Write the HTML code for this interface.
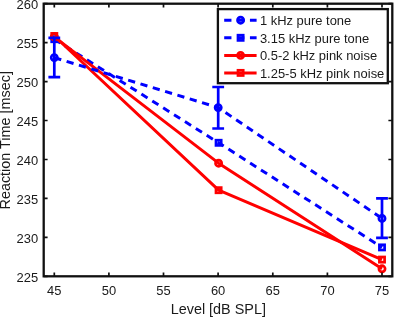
<!DOCTYPE html>
<html><head><meta charset="utf-8"><title>Reaction Time vs Level</title>
<style>
html,body{margin:0;padding:0;background:#fff;}
svg{display:block;}
text{font-family:"Liberation Sans",Arial,Helvetica,sans-serif;fill:#1a1a1a;}
.t{font-size:12.95px;}
.l{font-size:14.4px;}
</style></head><body>
<svg width="394" height="317" viewBox="0 0 394 317">
<rect x="0" y="0" width="394" height="317" fill="#ffffff"/>
<g>
<polyline points="54.3,39.2 218.6,142.8 382.0,247.4" fill="none" stroke="#0000ff" stroke-width="2.95" stroke-linejoin="round" stroke-dasharray="7.25 5.62"/>
<rect x="51.70" y="36.60" width="5.2" height="5.2" fill="none" stroke="#0000ff" stroke-width="2.7"/>
<rect x="216.00" y="140.20" width="5.2" height="5.2" fill="none" stroke="#0000ff" stroke-width="2.7"/>
<rect x="379.40" y="244.80" width="5.2" height="5.2" fill="none" stroke="#0000ff" stroke-width="2.7"/>
<polyline points="54.3,36.8 218.6,163.2 382.0,268.8" fill="none" stroke="#ff0000" stroke-width="2.95" stroke-linejoin="round"/>
<circle cx="54.30" cy="36.80" r="3.1" fill="none" stroke="#ff0000" stroke-width="2.7"/>
<circle cx="218.60" cy="163.20" r="3.1" fill="none" stroke="#ff0000" stroke-width="2.7"/>
<circle cx="382.00" cy="268.80" r="3.1" fill="none" stroke="#ff0000" stroke-width="2.7"/>
<polyline points="54.3,36.0 218.6,190.2 382.0,259.6" fill="none" stroke="#ff0000" stroke-width="2.95" stroke-linejoin="round"/>
<rect x="51.70" y="33.40" width="5.2" height="5.2" fill="none" stroke="#ff0000" stroke-width="2.7"/>
<rect x="216.00" y="187.60" width="5.2" height="5.2" fill="none" stroke="#ff0000" stroke-width="2.7"/>
<rect x="379.40" y="257.00" width="5.2" height="5.2" fill="none" stroke="#ff0000" stroke-width="2.7"/>
<polyline points="54.3,57.6 218.2,107.6 382.0,218.4" fill="none" stroke="#0000ff" stroke-width="2.95" stroke-linejoin="round" stroke-dasharray="7.25 5.62"/>
<path d="M54.3,37.9V77.2M48.4,37.9H60.2M48.4,77.2H60.2" fill="none" stroke="#0000ff" stroke-width="2.7"/>
<circle cx="54.30" cy="57.60" r="3.1" fill="none" stroke="#0000ff" stroke-width="2.7"/>
<path d="M218.2,87.0V128.5M212.3,87.0H224.1M212.3,128.5H224.1" fill="none" stroke="#0000ff" stroke-width="2.7"/>
<circle cx="218.20" cy="107.60" r="3.1" fill="none" stroke="#0000ff" stroke-width="2.7"/>
<path d="M382.0,198.4V237.8M376.1,198.4H387.9M376.1,237.8H387.9" fill="none" stroke="#0000ff" stroke-width="2.7"/>
<circle cx="382.00" cy="218.40" r="3.1" fill="none" stroke="#0000ff" stroke-width="2.7"/>
</g>
<rect x="43.7" y="3.7" width="348.6" height="272.6" fill="none" stroke="#101010" stroke-width="2.3"/>
<path d="M54.3,276.3v-3.9M54.3,3.7v3.9M108.9,276.3v-3.9M108.9,3.7v3.9M163.5,276.3v-3.9M163.5,3.7v3.9M218.1,276.3v-3.9M218.1,3.7v3.9M272.8,276.3v-3.9M272.8,3.7v3.9M327.4,276.3v-3.9M327.4,3.7v3.9M382.0,276.3v-3.9M382.0,3.7v3.9M43.7,276.3h3.9M392.3,276.3h-3.9M43.7,237.4h3.9M392.3,237.4h-3.9M43.7,198.4h3.9M392.3,198.4h-3.9M43.7,159.5h3.9M392.3,159.5h-3.9M43.7,120.5h3.9M392.3,120.5h-3.9M43.7,81.6h3.9M392.3,81.6h-3.9M43.7,42.6h3.9M392.3,42.6h-3.9M43.7,3.7h3.9M392.3,3.7h-3.9" fill="none" stroke="#101010" stroke-width="1.7"/>
<text class="t" x="54.3" y="295.2" text-anchor="middle">45</text>
<text class="t" x="108.9" y="295.2" text-anchor="middle">50</text>
<text class="t" x="163.5" y="295.2" text-anchor="middle">55</text>
<text class="t" x="218.1" y="295.2" text-anchor="middle">60</text>
<text class="t" x="272.8" y="295.2" text-anchor="middle">65</text>
<text class="t" x="327.4" y="295.2" text-anchor="middle">70</text>
<text class="t" x="382.0" y="295.2" text-anchor="middle">75</text>
<text class="t" x="38.1" y="281.9" text-anchor="end">225</text>
<text class="t" x="38.1" y="243.0" text-anchor="end">230</text>
<text class="t" x="38.1" y="204.0" text-anchor="end">235</text>
<text class="t" x="38.1" y="165.1" text-anchor="end">240</text>
<text class="t" x="38.1" y="126.1" text-anchor="end">245</text>
<text class="t" x="38.1" y="87.2" text-anchor="end">250</text>
<text class="t" x="38.1" y="48.2" text-anchor="end">255</text>
<text class="t" x="38.1" y="9.3" text-anchor="end">260</text>
<text class="l" x="218.3" y="313.6" text-anchor="middle">Level [dB SPL]</text>
<text class="l" transform="translate(10.0,140.3) rotate(-90)" text-anchor="middle">Reaction Time [msec]</text>
<rect x="217.9" y="9.1" width="169.9" height="74.10000000000001" fill="#ffffff" stroke="#111111" stroke-width="2.3"/>
<polyline points="224.2,20.2 256.6,20.2" fill="none" stroke="#0000ff" stroke-width="2.95" stroke-linejoin="round" stroke-dasharray="7.25 5.62"/>
<circle cx="240.60" cy="20.20" r="3.1" fill="none" stroke="#0000ff" stroke-width="2.7"/>
<text class="t" x="259.9" y="25.1">1 kHz pure tone</text>
<polyline points="224.2,37.8 256.6,37.8" fill="none" stroke="#0000ff" stroke-width="2.95" stroke-linejoin="round" stroke-dasharray="7.25 5.62"/>
<rect x="238.00" y="35.20" width="5.2" height="5.2" fill="none" stroke="#0000ff" stroke-width="2.7"/>
<text class="t" x="259.9" y="42.7">3.15 kHz pure tone</text>
<polyline points="224.2,55.4 256.6,55.4" fill="none" stroke="#ff0000" stroke-width="2.95" stroke-linejoin="round"/>
<circle cx="240.60" cy="55.40" r="3.1" fill="none" stroke="#ff0000" stroke-width="2.7"/>
<text class="t" x="259.9" y="60.3">0.5-2 kHz pink noise</text>
<polyline points="224.2,72.9 256.6,72.9" fill="none" stroke="#ff0000" stroke-width="2.95" stroke-linejoin="round"/>
<rect x="238.00" y="70.30" width="5.2" height="5.2" fill="none" stroke="#ff0000" stroke-width="2.7"/>
<text class="t" x="259.9" y="77.8">1.25-5 kHz pink noise</text>
</svg>
</body></html>
